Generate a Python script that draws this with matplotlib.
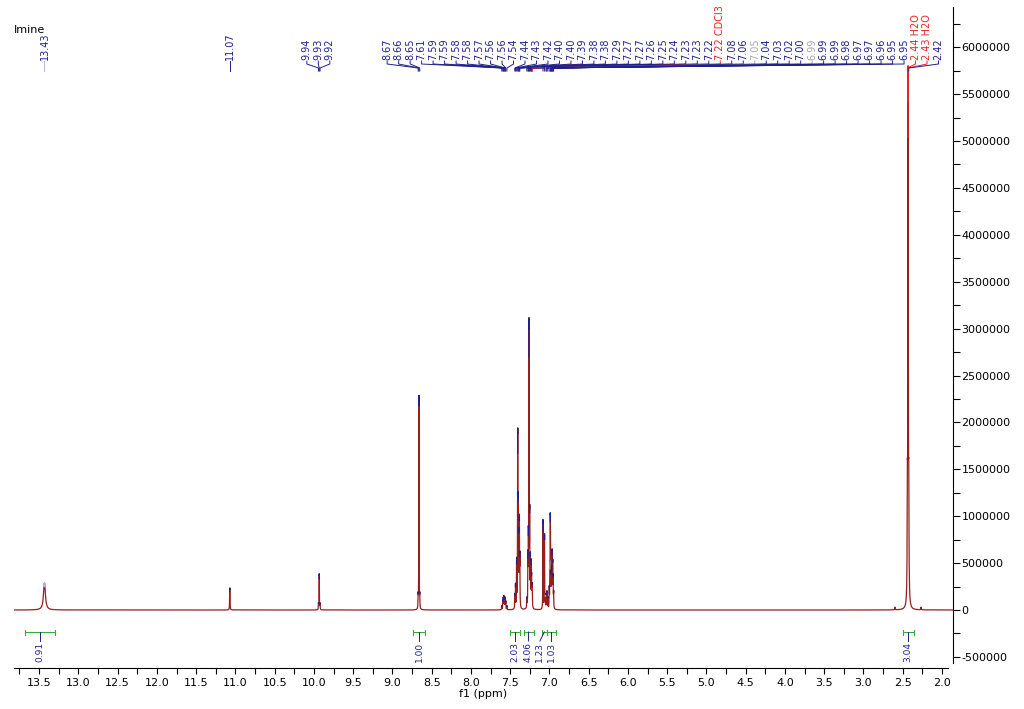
import numpy as np
import matplotlib
matplotlib.use('Agg')
import matplotlib.pyplot as plt
from matplotlib.ticker import MultipleLocator, FuncFormatter

plt.rcParams['font.family'] = ['DejaVu Sans']
plt.rcParams['axes.unicode_minus'] = False

# picked peaks: shift (ppm), intensity, half width (ppm), label suffix, colour key
pk_ppm = [13.432, 11.071, 9.941, 9.932, 9.922, 8.672, 8.662, 8.652,
          7.608, 7.594, 7.588, 7.582, 7.577, 7.569, 7.562, 7.556, 7.542,
          7.441, 7.432, 7.418, 7.404, 7.398, 7.391, 7.383, 7.377,
          7.288, 7.274, 7.268, 7.260, 7.252, 7.243, 7.234, 7.228, 7.222, 7.218,
          7.082, 7.063, 7.052, 7.041, 7.032, 7.021,
          7.002, 6.994, 6.989, 6.986, 6.978, 6.972, 6.966, 6.959, 6.953, 6.947,
          2.441, 2.432, 2.423]
pk_int = [290000, 235000, 60000, 380000, 60000, 120000, 2280000, 120000,
          40000, 90000, 110000, 120000, 110000, 120000, 100000, 80000, 40000,
          150000, 250000, 500000, 1800000, 1000000, 700000, 900000, 500000,
          100000, 500000, 650000, 3000000, 900000, 500000, 450000, 300000, 200000, 150000,
          950000, 800000, 120000, 150000, 180000, 120000,
          200000, 350000, 800000, 500000, 300000, 350000, 550000, 450000, 300000, 150000,
          1000000, 5600000, 1000000]
pk_hw = [0.014, 0.0025, 0.002, 0.002, 0.002, 0.0018, 0.0018, 0.0018] + [0.002] * 43 + [0.003] * 3
pk_tag = [''] * 34 + [' CDCl3'] + [''] * 16 + [' H2O', ' H2O', '']
pk_col = (['l'] + ['b'] * 36 + ['g'] + ['b'] * 4 + ['g'] + ['b'] * 8 + ['r', 'r', 'b'])
pk_col[34] = 'r'

# 13C satellites of the 2.43 singlet (not labelled)
sat_ppm = [2.597, 2.267]
sat_int = [28000, 28000]
sat_hw = [0.003, 0.003]

# integral regions
int_from = [13.68, 8.74, 7.50, 7.33, 7.10, 7.03, 2.50]
int_to = [13.30, 8.58, 7.37, 7.20, 7.03, 6.92, 2.36]
int_val = [0.91, 1.00, 2.03, 4.06, 1.23, 1.03, 3.04]

# label layout: (number of labels, ppm of first slot), None = at the peak
groups = [(1, None), (1, None), (3, 10.09), (49, 9.067)]
gap = 0.1463

navy = '#20208c'
txt_col = {'b': navy, 'l': navy, 'g': '#a8a8a8', 'r': '#ee2222'}
ln_col = {'b': navy, 'l': '#b4b4e4', 'g': '#a8a8a8', 'r': '#ee2222'}
green = '#3aaa3a'
curve_c = '#981e1e'


def yv(pix):
    # vertical pixel position of the reference -> intensity
    return (610 - pix) * 500000 / 46.9


fig = plt.figure(figsize=(10.24, 7.09), dpi=100)
ax = fig.add_axes([14 / 1024, 41 / 709, 939 / 1024, 661 / 709])

# spectrum as sum of lorentzians
x = np.arange(1.80, 13.90, 0.0004)
y = np.zeros_like(x)
for p, h, w in zip(pk_ppm + sat_ppm, pk_int + sat_int, pk_hw + sat_hw):
    y += h * w ** 2 / ((x - p) ** 2 + w ** 2)
ax.plot(x, y, color=curve_c, lw=0.9)

# coloured tips of picked peaks that are local maxima
for p, w, c in zip(pk_ppm, pk_hw, pk_col):
    yc = np.interp(p, x, y)
    if yc < np.interp(p - 0.0012, x, y) or yc < np.interp(p + 0.0012, x, y):
        continue
    m = np.abs(x - p) < 0.4 * w
    ax.plot(x[m], y[m], color=ln_col[c], lw=0.9)

# peak labels with connector lines
slots = []
i = 0
for n, start in groups:
    if start is None:
        slots.append(pk_ppm[i])
    else:
        slots += [start - gap * k for k in range(n)]
    i += n

for s, p, tag, c in zip(slots, pk_ppm, pk_tag, pk_col):
    ax.plot([s, s, p, p], [yv(61), yv(64), yv(68), yv(71)], color=ln_col[c], lw=0.7)
    ax.text(s, yv(60), f'{p:.2f}{tag}', rotation=90, ha='center', va='bottom',
            fontsize=7, color=txt_col[c])

# integrals, labels pushed apart from the right
centers = [(a + b) / 2 for a, b in zip(int_from, int_to)]
lab_x = list(centers)
for k in range(len(lab_x) - 2, -1, -1):
    if lab_x[k] < lab_x[k + 1] + gap and lab_x[k] - lab_x[k + 1] < 1:
        lab_x[k] = lab_x[k + 1] + gap
y_br = yv(632)
cap = yv(629.5) - y_br
for a, b, c, lx, v in zip(int_from, int_to, centers, lab_x, int_val):
    ax.plot([a, b], [y_br, y_br], color=green, lw=0.8)
    ax.plot([a, a], [y_br - cap, y_br + cap], color=green, lw=0.8)
    ax.plot([b, b], [y_br - cap, y_br + cap], color=green, lw=0.8)
    ax.plot([c, lx], [y_br, yv(641)], color=navy, lw=0.7)
    ax.text(lx, yv(642), f'{v:.2f}', rotation=90, ha='center', va='top',
            fontsize=6.5, color=navy)

# axes
ax.set_xlim(13.82, 1.86)
ax.set_ylim(yv(668), yv(7))
ax.spines['left'].set_visible(False)
ax.spines['top'].set_visible(False)
ax.spines['right'].set_bounds(yv(663), yv(7))
ax.spines['bottom'].set_bounds(13.82, 1.92)
ax.yaxis.tick_right()
ax.xaxis.set_major_locator(MultipleLocator(0.5))
ax.xaxis.set_minor_locator(MultipleLocator(0.25))
ax.xaxis.set_major_formatter(FuncFormatter(lambda v, pos: f'{v:.1f}'))
ax.yaxis.set_major_locator(MultipleLocator(500000))
ax.yaxis.set_minor_locator(MultipleLocator(250000))
ax.yaxis.set_major_formatter(FuncFormatter(lambda v, pos: f'{int(round(v))}'))
ax.tick_params(axis='x', which='both', length=4, width=0.8, labelsize=8, pad=3)
ax.tick_params(axis='y', which='both', length=5, width=0.8, labelsize=8, pad=1)
ax.set_xlabel('f1 (ppm)', fontsize=8, labelpad=1)

fig.text(14 / 1024, 1 - 30 / 709, 'Imine', fontsize=8, ha='left', va='center')

fig.savefig('out.png', dpi=100)
